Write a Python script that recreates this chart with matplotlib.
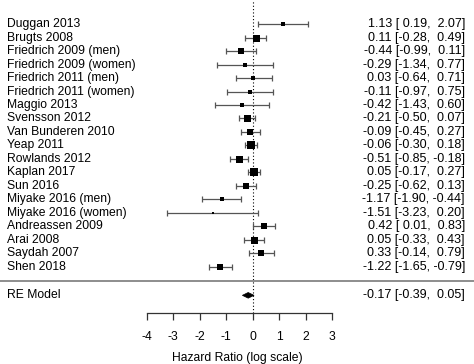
import matplotlib
matplotlib.use('Agg')
import numpy as np
import matplotlib.pyplot as plt

studies = ["Duggan 2013", "Brugts 2008", "Friedrich 2009 (men)", "Friedrich 2009 (women)",
           "Friedrich 2011 (men)", "Friedrich 2011 (women)", "Maggio 2013", "Svensson 2012",
           "Van Bunderen 2010", "Yeap 2011", "Rowlands 2012", "Kaplan 2017", "Sun 2016",
           "Miyake 2016 (men)", "Miyake 2016 (women)", "Andreassen 2009", "Arai 2008",
           "Saydah 2007", "Shen 2018"]
est = [1.13, 0.11, -0.44, -0.29, 0.03, -0.11, -0.42, -0.21, -0.09, -0.06,
       -0.51, 0.05, -0.25, -1.17, -1.51, 0.42, 0.05, 0.33, -1.22]
lo = [0.19, -0.28, -0.99, -1.34, -0.64, -0.97, -1.43, -0.50, -0.45, -0.30,
      -0.85, -0.17, -0.62, -1.90, -3.23, 0.01, -0.33, -0.14, -1.65]
hi = [2.07, 0.49, 0.11, 0.77, 0.71, 0.75, 0.60, 0.07, 0.27, 0.18,
      -0.18, 0.27, 0.13, -0.44, 0.20, 0.83, 0.43, 0.79, -0.79]
# square side in pixels (study weight)
box_px = [4, 7, 5.5, 4, 5, 4.5, 4, 7, 6.5, 7.5, 7, 8, 6.5, 4.5, 2.5, 6.5, 7, 6.5, 6.5]
re_est, re_lo, re_hi = -0.17, -0.39, 0.05
xticks = [-4, -3, -2, -1, 0, 1, 2, 3]

fs_left = 8.75
fs_right = 9.0
fs_axis = 8.75
plt.rcParams['font.family'] = ['Liberation Sans', 'DejaVu Sans']

fig = plt.figure(figsize=(4.74, 3.64), dpi=100)
ax = fig.add_axes([0, 0.139, 1, 0.861])
ax.set_xlim(-9.536, 8.351)
ax.set_ylim(-2.46, 20.79)

k = len(studies)
rows = np.arange(k, 0, -1)
gray = '#555555'

ax.axvline(0, color='k', ls=(0, (1, 2)), lw=0.8, zorder=1)
ax.axhline(-0.06, color='#7a7a7a', lw=1.2)

for y, m, l, h, s, name in zip(rows, est, lo, hi, box_px, studies):
    ax.errorbar(m, y, xerr=[[m - l], [h - m]], fmt='none', ecolor=gray,
                elinewidth=0.9, capsize=1.9, capthick=0.9, zorder=2)
    ax.plot(m, y, marker='s', ms=s * 0.72, color='k', mec='k', mew=0, zorder=3)
    ax.text(-9.26, y, name, ha='left', va='center', fontsize=fs_left)
    ax.text(8.01, y, f"{m:.2f} [{l:5.2f}, {h:5.2f}]", ha='right', va='center',
            fontsize=fs_right)

re_y = -1.12
dh = 0.21
ax.fill([re_lo, re_est, re_hi, re_est], [re_y, re_y + dh, re_y, re_y - dh],
        color='k', lw=0.5, zorder=3)
ax.text(-9.26, re_y, "RE Model", ha='left', va='center', fontsize=fs_left)
ax.text(8.01, re_y, f"{re_est:.2f} [{re_lo:5.2f}, {re_hi:5.2f}]",
        ha='right', va='center', fontsize=fs_right)

for sp in ['left', 'right', 'top']:
    ax.spines[sp].set_visible(False)
ax.spines['bottom'].set_bounds(-4, 3)
ax.spines['bottom'].set_color('#333333')
ax.spines['bottom'].set_linewidth(0.9)
ax.set_yticks([])
ax.set_xticks(xticks)
ax.set_xticklabels([str(t) for t in xticks])
ax.tick_params(axis='x', direction='out', length=5, width=0.9, pad=8,
               labelsize=fs_axis, color='#333333')
ax.set_xlabel("Hazard Ratio (log scale)", fontsize=fs_axis, labelpad=6)

fig.savefig('out.png', dpi=100)
